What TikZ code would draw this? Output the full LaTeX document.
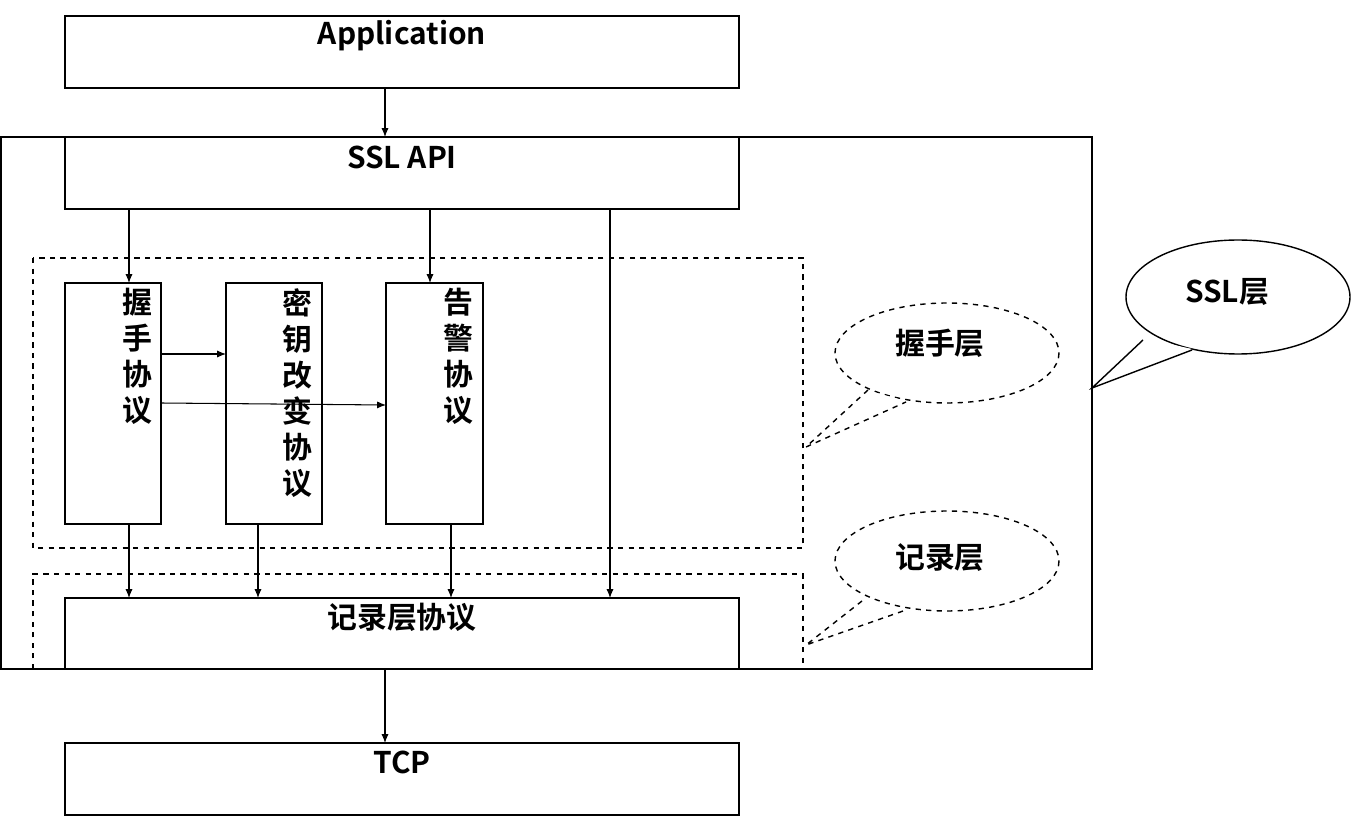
\documentclass[tikz,border=0pt]{standalone}
\usepackage{fontspec}
\setmainfont{Noto Sans CJK SC}[BoldFont={Noto Sans CJK SC Bold}]
\usetikzlibrary{arrows.meta}
\begin{document}
\begin{tikzpicture}[x=0.02cm,y=-0.02cm,
  box/.style={draw,line width=0.8pt},
  lbl/.style={font=\fontsize{17}{19}\selectfont\bfseries,inner sep=0},
  vlbl/.style={font=\fontsize{17}{20.5}\selectfont\bfseries,inner sep=0,align=center,anchor=north},
  arr/.style={-{Latex[length=5pt,width=4pt]},line width=0.6pt},
  dsh/.style={dashed,line width=0.8pt}]
\useasboundingbox (0,0) rectangle (1353,817);
\draw[box] (1,137) rectangle (1092,669);
\draw[box] (65,16) rectangle (739,88);
\node[lbl] (app) at (402,36) {Application};
\draw[box] (65,137) rectangle (739,209);
\node[lbl] (api) at (402,157) {SSL API};
\draw[dsh] (33,258) rectangle (803,548);
\draw[dsh] (33,669) -- (33,574) -- (803,574) -- (803,669);
\draw[box] (65,283) rectangle (161,524);
\node[vlbl] (hs) at (137,288) {握\\手\\协\\议};
\draw[box] (226,283) rectangle (322,524);
\node[vlbl] (cc) at (297,288) {密\\钥\\改\\变\\协\\议};
\draw[box] (386,283) rectangle (483,524);
\node[vlbl] (al) at (458,288) {告\\警\\协\\议};
\draw[box,fill=white] (65,598) rectangle (739,669);
\node[lbl] (rec) at (402,617) {记录层协议};
\draw[box] (65,743) rectangle (739,815);
\node[lbl] (tcp) at (402,762) {TCP};
\coordinate (a1) at (385,88); \coordinate (a2) at (385,137);
\draw[arr] (a1) -- (a2);
\draw[arr] (129,209) -- (129,283);
\draw[arr] (430,209) -- (430,283);
\draw[arr] (610,209) -- (610,598);
\draw[arr] (161,354) -- (226,354);
\draw[arr] (161,403) -- (386,405);
\draw[arr] (129,524) -- (129,598);
\draw[arr] (258,524) -- (258,598);
\draw[arr] (451,524) -- (451,598);
\draw[arr] (385,669) -- (385,743);
% callouts
\draw[line width=0.8pt] (1238,297) ellipse [x radius=112, y radius=57];
\fill[white] (1092,388) -- (1143,338) -- (1192,349) -- cycle;
\draw[line width=0.8pt] (1143,340) -- (1092,388) -- (1192,350);
\node[lbl] (ssl) at (1227,292) {SSL层};
\draw[dsh] (947,353) ellipse [x radius=112, y radius=50];
\fill[white] (806,447) -- (866,390) -- (906,401) -- cycle;
\draw[dsh] (868,390) -- (806,447) -- (906,402);
\node[lbl] (hsl) at (940,343) {握手层};
\draw[dsh] (947,561) ellipse [x radius=112, y radius=50];
\fill[white] (806,645) -- (862,600) -- (906,609) -- cycle;
\draw[dsh] (862,601) -- (806,645) -- (906,610);
\node[lbl] (rl) at (940,558) {记录层};
\end{tikzpicture}
\end{document}
